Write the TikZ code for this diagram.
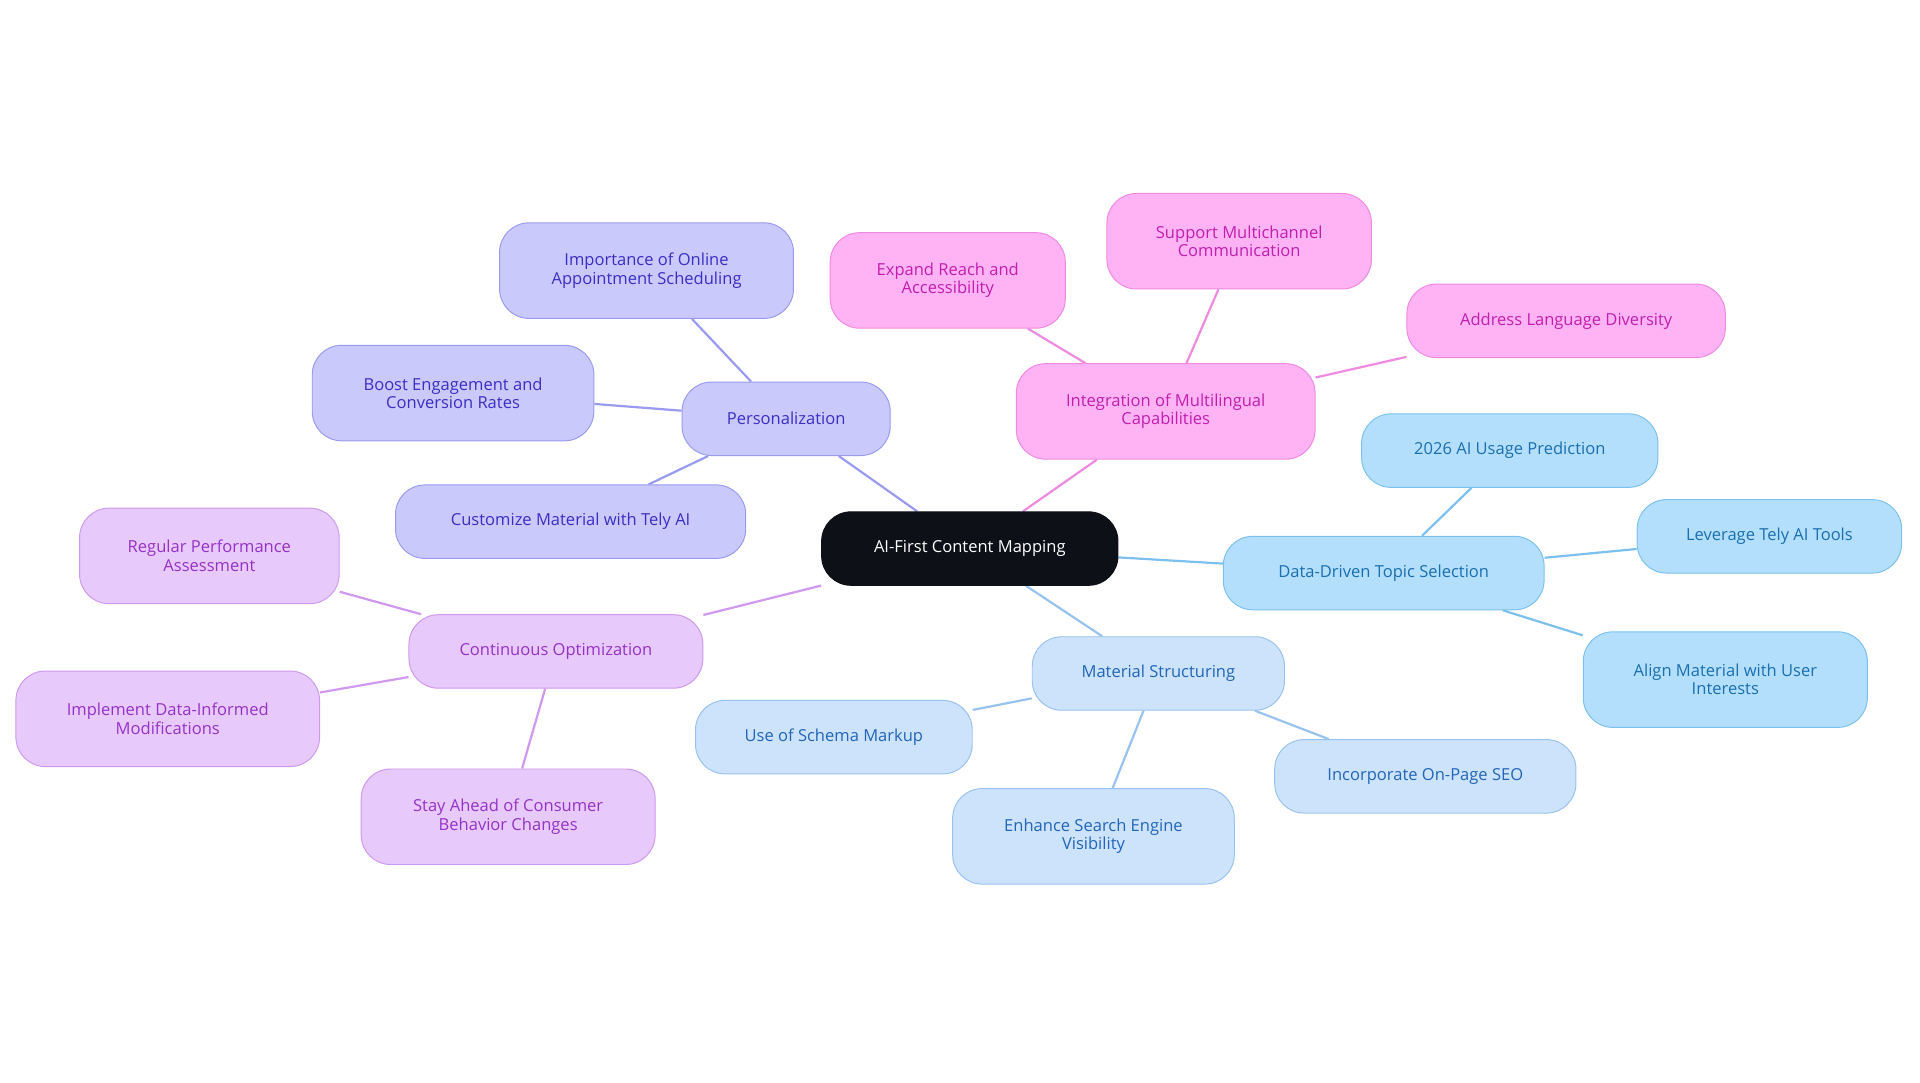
\documentclass[tikz,border=0pt]{standalone}
\usepackage{fontspec}
\setmainfont{Open Sans}
\usetikzlibrary{backgrounds}
\definecolor{cBlack}{HTML}{0D1117}
\definecolor{pF}{HTML}{C9C9FB}\definecolor{pD}{HTML}{9A9AF0}\definecolor{pT}{HTML}{3A2FC4}
\definecolor{mF}{HTML}{FFB3F5}\definecolor{mD}{HTML}{F08AE0}\definecolor{mT}{HTML}{C21FAE}
\definecolor{dF}{HTML}{B3DFFC}\definecolor{dD}{HTML}{7CC0EF}\definecolor{dT}{HTML}{1A6FB0}
\definecolor{sF}{HTML}{CDE2FB}\definecolor{sD}{HTML}{99C3EF}\definecolor{sT}{HTML}{2166B8}
\definecolor{oF}{HTML}{E8C9FB}\definecolor{oD}{HTML}{CF99EF}\definecolor{oT}{HTML}{9532C8}
\tikzset{
 box/.style={rounded corners=24pt,align=center,inner sep=0pt,font=\fontsize{13.5}{15}\selectfont,line width=0.8pt},
 P/.style={box,fill=pF,draw=pD,text=pT}, M/.style={box,fill=mF,draw=mD,text=mT},
 D/.style={box,fill=dF,draw=dD,text=dT}, S/.style={box,fill=sF,draw=sD,text=sT},
 O/.style={box,fill=oF,draw=oD,text=oT},
 e/.style={line width=1.8pt}
}
\newcommand{\bx}[6]{\node[#1,minimum width=#4pt,minimum height=#5pt] (#2) at (#3) {#6};}
\begin{document}
\begin{tikzpicture}[x=1pt,y=-1pt]
\useasboundingbox (0,0) rectangle (1568,884);
\bx{box,fill=cBlack,text=white,draw=cBlack}{c}{792,448}{242}{60}{AI-First Content Mapping}
\bx{P}{p}{642,342}{170}{60}{Personalization}
\bx{P}{p1}{528,221}{240}{78}{Importance of Online\\Appointment Scheduling}
\bx{P}{p2}{370,321}{230}{78}{Boost Engagement and\\Conversion Rates}
\bx{P}{p3}{466,426}{286}{60}{Customize Material with Tely AI}
\bx{M}{m}{952,336}{244}{78}{Integration of Multilingual\\Capabilities}
\bx{M}{m1}{774,229}{192}{78}{Expand Reach and\\Accessibility}
\bx{M}{m2}{1012,197}{216}{78}{Support Multichannel\\Communication}
\bx{M}{m3}{1279,262}{260}{60}{Address Language Diversity}
\bx{D}{d}{1130,468}{262}{60}{Data-Driven Topic Selection}
\bx{D}{d1}{1233,368}{242}{60}{2026 AI Usage Prediction}
\bx{D}{d2}{1445,438}{216}{60}{Leverage Tely AI Tools}
\bx{D}{d3}{1409,555}{232}{78}{Align Material with User\\Interests}
\bx{S}{s}{946,550}{206}{60}{Material Structuring}
\bx{S}{s1}{681,602}{226}{60}{Use of Schema Markup}
\bx{S}{s2}{893,683}{230}{78}{Enhance Search Engine\\Visibility}
\bx{S}{s3}{1164,634}{246}{60}{Incorporate On-Page SEO}
\bx{O}{o}{454,532}{240}{60}{Continuous Optimization}
\bx{O}{o1}{171,454}{212}{78}{Regular Performance\\Assessment}
\bx{O}{o2}{137,587}{248}{78}{Implement Data-Informed\\Modifications}
\bx{O}{o3}{415,667}{240}{78}{Stay Ahead of Consumer\\Behavior Changes}
\begin{scope}[on background layer]
\draw[e,pD] (c)--(p) (p)--(p1) (p)--(p2) (p)--(p3);
\draw[e,mD] (c)--(m) (m)--(m1) (m)--(m2) (m)--(m3);
\draw[e,dD] (c)--(d) (d)--(d1) (d)--(d2) (d)--(d3);
\draw[e,sD] (c)--(s) (s)--(s1) (s)--(s2) (s)--(s3);
\draw[e,oD] (c)--(o) (o)--(o1) (o)--(o2) (o)--(o3);
\end{scope}
\end{tikzpicture}
\end{document}
